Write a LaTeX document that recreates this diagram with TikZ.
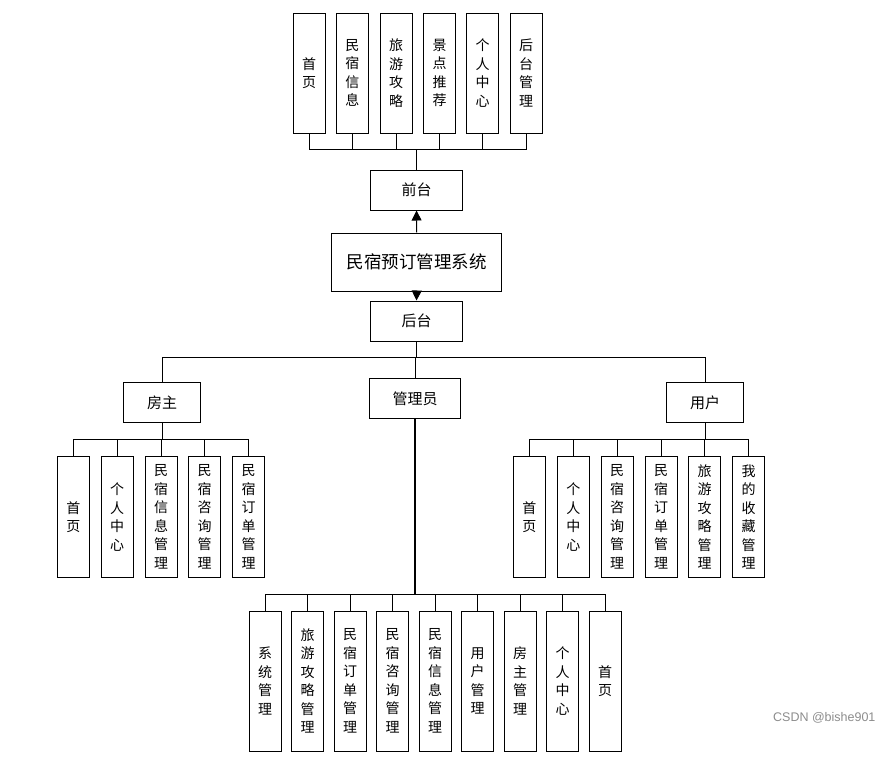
\documentclass[tikz,border=0pt]{standalone}
\usepackage{fontspec}
\newfontfamily\cjk{Noto Sans CJK SC}
\setmainfont{Liberation Sans}
\usetikzlibrary{arrows.meta}
\tikzset{
  box/.style={draw=black, line width=1pt, fill=white, inner sep=0pt},
  vtext/.style={box, minimum width=32pt, align=center, font=\cjk\fontsize{14}{18.5}\selectfont},
  vtop/.style={vtext, minimum height=120pt},
  vmid/.style={vtext, minimum height=120.5pt},
  vbot/.style={vtext, minimum height=140pt},
  hbox/.style={box, minimum width=91.5pt, minimum height=40pt, font=\cjk\fontsize{15}{18}\selectfont},
  conn/.style={draw=black, line width=0.9pt},
  arr/.style={conn, -{Triangle[width=10pt,length=10pt]}},
}
\begin{document}
\begin{tikzpicture}[x=1pt,y=-1pt]
\useasboundingbox (0,0) rectangle (894,761);
% top row
\node[vtop] (t1) at (309,73) {首\\页};
\node[vtop] (t2) at (352.3,73) {民\\宿\\信\\息};
\node[vtop] (t3) at (396,73) {旅\\游\\攻\\略};
\node[vtop] (t4) at (439.5,73) {景\\点\\推\\荐};
\node[vtop] (t5) at (482.5,73) {个\\人\\中\\心};
\node[vtop] (t6) at (526,73) {后\\台\\管\\理};
\node[hbox] (qt) at (416.5,190) {前台};
\node[box, minimum width=170pt, minimum height=58.5pt, font=\cjk\fontsize{17.5}{20}\selectfont] (sys) at (416.7,262.3) {民宿预订管理系统};
\node[hbox] (ht) at (416.5,321) {后台};
\node[hbox, minimum width=77.5pt] (fz) at (162,402.7) {房主};
\node[hbox] (gly) at (415,398.3) {管理员};
\node[hbox, minimum width=76.5pt] (yh) at (705,402.7) {用户};
% fangzhu children
\node[vmid] (f1) at (73.3,517) {首\\页};
\node[vmid] (f2) at (117,517) {个\\人\\中\\心};
\node[vmid] (f3) at (161,517) {民\\宿\\信\\息\\管\\理};
\node[vmid] (f4) at (204.5,517) {民\\宿\\咨\\询\\管\\理};
\node[vmid] (f5) at (248.5,517) {民\\宿\\订\\单\\管\\理};
% user children
\node[vmid] (u1) at (529.3,517) {首\\页};
\node[vmid] (u2) at (573.3,517) {个\\人\\中\\心};
\node[vmid] (u3) at (617,517) {民\\宿\\咨\\询\\管\\理};
\node[vmid] (u4) at (661,517) {民\\宿\\订\\单\\管\\理};
\node[vmid] (u5) at (704.5,517) {旅\\游\\攻\\略\\管\\理};
\node[vmid] (u6) at (748.5,517) {我\\的\\收\\藏\\管\\理};
% admin children
\node[vbot] (a1) at (265,681) {系\\统\\管\\理};
\node[vbot] (a2) at (307.5,681) {旅\\游\\攻\\略\\管\\理};
\node[vbot] (a3) at (350,681) {民\\宿\\订\\单\\管\\理};
\node[vbot] (a4) at (392.7,681) {民\\宿\\咨\\询\\管\\理};
\node[vbot] (a5) at (435,681) {民\\宿\\信\\息\\管\\理};
\node[vbot] (a6) at (477.5,681) {用\\户\\管\\理};
\node[vbot] (a7) at (520,681) {房\\主\\管\\理};
\node[vbot] (a8) at (562.5,681) {个\\人\\中\\心};
\node[vbot] (a9) at (605,681) {首\\页};
% buses
\coordinate (bt) at (416.5,149.5);
\coordinate (bh) at (416.5,357.3);
\coordinate (bf) at (162,439.3);
\coordinate (bu) at (705,439.3);
\coordinate (ba) at (415,594);
% top connectors
\foreach \n in {t1,t2,t3,t4,t5,t6} \draw[conn] (\n.south) -- (\n.south |- bt);
\draw[conn] (t1.south |- bt) -- (t6.south |- bt);
\draw[conn] (bt) -- (qt.north);
\draw[arr] (sys.north) -- (qt.south);
\draw[arr] (sys.south) -- (ht.north);
% backend
\draw[conn] (ht.south) -- (bh);
\draw[conn] (fz.north |- bh) -- (yh.north |- bh);
\draw[conn] (fz.north |- bh) -- (fz.north);
\draw[conn] (gly.north |- bh) -- (gly.north);
\draw[conn] (yh.north |- bh) -- (yh.north);
% fangzhu
\draw[conn] (fz.south) -- (bf);
\foreach \n in {f1,f2,f3,f4,f5} \draw[conn] (\n.north) -- (\n.north |- bf);
\draw[conn] (f1.north |- bf) -- (f5.north |- bf);
% user
\draw[conn] (yh.south) -- (bu);
\foreach \n in {u1,u2,u3,u4,u5,u6} \draw[conn] (\n.north) -- (\n.north |- bu);
\draw[conn] (u1.north |- bu) -- (u6.north |- bu);
% admin
\draw[conn, line width=1.8pt] (gly.south) -- (ba);
\foreach \n in {a1,a2,a3,a4,a5,a6,a7,a8,a9} \draw[conn] (\n.north) -- (\n.north |- ba);
\draw[conn] (a1.north |- ba) -- (a9.north |- ba);
% watermark
\node[font=\fontsize{12.5}{14}\selectfont, text=black!45, anchor=east] (wm) at (879,718) {CSDN @bishe901};
\end{tikzpicture}
\end{document}
